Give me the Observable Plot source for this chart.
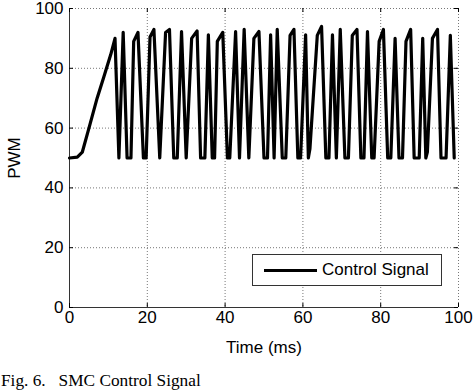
<!DOCTYPE html>
<html>
<head>
<meta charset="utf-8">
<script src="https://cdn.jsdelivr.net/npm/d3@7"></script>
<script src="https://cdn.jsdelivr.net/npm/@observablehq/plot@0.6"></script>
<style>
  body { margin: 0; background: #fff; width: 474px; height: 391px; overflow: hidden; position: relative; font-family: "Liberation Sans", Arial, sans-serif; }
  #chart { position: absolute; left: 0; top: 0; }
  #legend { position: absolute; left: 252px; top: 254px; width: 190px; height: 32px; border: 1px solid #333; background: #fff; box-sizing: border-box; }
  #legend .swatch { position: absolute; left: 11px; top: 13.5px; width: 53px; height: 3px; background: #000; }
  #legend .lab { position: absolute; left: 69px; top: 5px; font-size: 17px; line-height: 20px; color: #000; white-space: nowrap; }
  #caption { position: absolute; left: 1px; top: 371px; font-family: "Liberation Serif", "Times New Roman", serif; font-size: 17.3px; line-height: 20px; white-space: pre; color: #000; }
</style>
</head>
<body>
<div id="chart"></div>
<div id="legend"><div class="swatch"></div><div class="lab">Control Signal</div></div>
<div id="caption">Fig. 6.   SMC Control Signal</div>
<script>
// Time (ms) of each vertex of the control-signal trace
const time = [0, 2.0, 3.3, 5.0, 7.1, 8.8, 10.6, 11.7, 12.7, 13.8, 14.8, 15.8, 16.5, 17.6, 19.0, 19.7,
  20.7, 21.7, 23.2, 24.7, 25.7, 26.8, 27.7, 28.8, 30.0, 31.4, 32.8, 33.7, 34.8, 35.7, 36.7, 37.3,
  38.0, 39.4, 40.6, 41.2, 42.7, 43.7, 44.9, 46.1, 47.4, 48.7, 50.0, 50.9, 51.7, 52.6, 53.4, 54.7,
  55.6, 56.7, 57.7, 58.7, 59.4, 60.7, 61.4, 61.8, 63.7, 64.8, 65.9, 66.7, 67.6, 68.6, 69.6, 70.8,
  71.7, 72.7, 73.9, 74.9, 75.7, 76.6, 77.7, 78.3, 79.6, 80.7, 81.8, 82.6, 83.7, 84.7, 85.6, 86.5,
  87.7, 88.6, 89.9, 90.8, 91.6, 92.0, 93.3, 94.6, 95.5, 96.8, 97.9, 98.9];
// PWM value at each vertex
const pwm = [50, 50.3, 52, 60, 70, 77, 84.6, 90, 50, 92, 50, 50, 89, 92, 50, 50,
  90.5, 93, 50, 92, 93, 50, 50, 92.3, 50, 90, 92.5, 50, 50, 91.2, 50, 50,
  89, 92, 50, 50, 92.3, 50, 93, 50, 90, 92.3, 50, 50, 91.2, 50, 93, 50,
  50, 91, 93, 50, 50, 91.2, 50, 53, 91, 94, 50, 50, 91.2, 50, 93, 50,
  50, 91, 93, 50, 50, 92.3, 50, 50, 89, 93, 50, 50, 90, 50, 50, 89,
  93, 50, 50, 90, 50, 52, 90, 93, 50, 50, 91, 50];
const xTicks = [0, 20, 40, 60, 80, 100];
const yTicks = [0, 20, 40, 60, 80, 100];

const data = time.map((t, i) => ({t, v: pwm[i]}));
const W = 474, H = 360, ML = 69, MR = 16, MT = 8, MB = 53;
const pw = W - ML - MR, ph = H - MT - MB, tk = 4;

const chart = Plot.plot({
  width: W, height: H,
  marginLeft: ML, marginRight: MR, marginTop: MT, marginBottom: MB,
  style: {fontFamily: "Liberation Sans, Arial, sans-serif", fontSize: "17px", color: "#000", background: "#fff", overflow: "visible"},
  x: {domain: [0, 100], ticks: xTicks, label: null},
  y: {domain: [0, 100], ticks: yTicks, label: null},
  marks: [
    Plot.gridX(xTicks, {stroke: "#777", strokeOpacity: 1, strokeWidth: 1, strokeDasharray: "1,2"}),
    Plot.gridY(yTicks, {stroke: "#777", strokeOpacity: 1, strokeWidth: 1, strokeDasharray: "1,2"}),
    Plot.ruleX([0], {stroke: "#333"}),
    Plot.ruleY([0], {stroke: "#333"}),
    Plot.tickX(xTicks, {x: d => d, insetTop: ph - tk, stroke: "#000"}),
    Plot.tickX(xTicks, {x: d => d, insetBottom: ph - tk, stroke: "#000"}),
    Plot.tickY(yTicks, {y: d => d, insetRight: pw - tk, stroke: "#000"}),
    Plot.tickY(yTicks, {y: d => d, insetLeft: pw - tk, stroke: "#000"}),
    Plot.line(data, {x: "t", y: "v", stroke: "#000", strokeWidth: 3.2}),
    Plot.axisX(xTicks, {tickSize: 0, tickPadding: 3.5, label: "Time (ms)", labelAnchor: "center", labelOffset: 45, labelArrow: "none"}),
    Plot.axisY(yTicks, {tickSize: 0, tickPadding: 6, label: "PWM", labelAnchor: "center", labelOffset: 62, labelArrow: "none"})
  ]
});
document.getElementById("chart").appendChild(chart);
</script>
</body>
</html>
